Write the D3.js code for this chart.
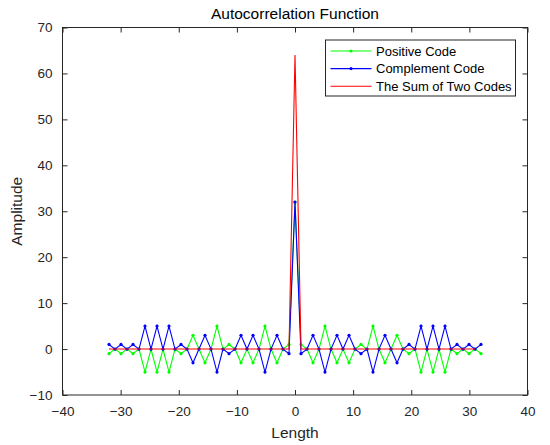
<!DOCTYPE html>
<html>
<head>
<meta charset="utf-8">
<script src="https://cdn.jsdelivr.net/npm/d3@7.9.0/dist/d3.min.js"></script>
<style>
  body { margin: 0; background: #fff; }
  text { font-family: Arial, "Liberation Sans", sans-serif; }
</style>
</head>
<body>
<svg id="chart"></svg>
<script>
// lag index (-31..31), drawn across Length -32..32
const lags = d3.range(-31, 32);

const complementCode = [
  1, 0, 1, 0, 1, 0, 5, 0, 5, 0, 5, 0, 1, 0, -3, 0,
  3, 0, -5, 0, -1, 0, 3, 0, 3, 0, -5, 0, 3, 0, -1,
  32,
  -1, 0, 3, 0, -5, 0, 3, 0, 3, 0, -1, 0, -5, 0, 3,
  0, -3, 0, 1, 0, 5, 0, 5, 0, 5, 0, 1, 0, 1, 0, 1
];
const positiveCode = [
  -1, 0, -1, 0, -1, 0, -5, 0, -5, 0, -5, 0, -1, 0, 3, 0,
  -3, 0, 5, 0, 1, 0, -3, 0, -3, 0, 5, 0, -3, 0, 1,
  32,
  1, 0, -3, 0, 5, 0, -3, 0, -3, 0, 1, 0, 5, 0, -3,
  0, 3, 0, -1, 0, -5, 0, -5, 0, -5, 0, -1, 0, -1, 0, -1
];
const sumCodes = [
  0, 0, 0, 0, 0, 0, 0, 0, 0, 0, 0, 0, 0, 0, 0, 0,
  0, 0, 0, 0, 0, 0, 0, 0, 0, 0, 0, 0, 0, 0, 0,
  64,
  0, 0, 0, 0, 0, 0, 0, 0, 0, 0, 0, 0, 0, 0, 0,
  0, 0, 0, 0, 0, 0, 0, 0, 0, 0, 0, 0, 0, 0, 0
];

const xTicks = [-40, -30, -20, -10, 0, 10, 20, 30, 40];
const yTicks = [-10, 0, 10, 20, 30, 40, 50, 60, 70];

const series = [
  { name: "Positive Code", values: positiveCode, color: "#00ff00", dots: true },
  { name: "Complement Code", values: complementCode, color: "#0000ff", dots: true },
  { name: "The Sum of Two Codes", values: sumCodes, color: "#ff0000", dots: false }
];

const W = 550, H = 445;
const margin = { top: 27.5, right: 22.5, bottom: 50, left: 62.5 };
const width = W - margin.left - margin.right,
      height = H - margin.top - margin.bottom;

const svg = d3.select("#chart")
  .attr("width", W)
  .attr("height", H);

const g = svg.append("g")
  .attr("transform", `translate(${margin.left},${margin.top})`);

const x = d3.scaleLinear().domain([-40, 40]).range([0, width]);
const y = d3.scaleLinear().domain([-10, 70]).range([height, 0]);
// lag index -> Length axis position
const xLag = d3.scaleLinear().domain([-31, 31]).range([x(-32), x(32)]);

const fmt = d => d < 0 ? "\u2212" + Math.abs(d) : String(d);

// Axes with inward ticks (MATLAB style)
const axisStyle = sel => {
  sel.select(".domain").remove();
  sel.selectAll(".tick line").attr("stroke", "#262626");
  sel.selectAll(".tick text").attr("fill", "#262626").attr("font-size", 13.5);
};

g.append("g")
  .attr("transform", `translate(0,${height})`)
  .call(d3.axisBottom(x).tickValues(xTicks).tickFormat(fmt).tickSizeInner(-5).tickPadding(11))
  .call(axisStyle);
g.append("g")
  .call(d3.axisTop(x).tickValues(xTicks).tickFormat("").tickSizeInner(-5))
  .call(axisStyle);
g.append("g")
  .call(d3.axisLeft(y).tickValues(yTicks).tickFormat(fmt).tickSizeInner(-5).tickPadding(10))
  .call(axisStyle);
g.append("g")
  .attr("transform", `translate(${width},0)`)
  .call(d3.axisRight(y).tickValues(yTicks).tickFormat("").tickSizeInner(-5))
  .call(axisStyle);

g.append("rect")
  .attr("width", width)
  .attr("height", height)
  .attr("fill", "none")
  .attr("stroke", "#262626")
  .attr("stroke-width", 1);

// Lines
const line = d3.line()
  .x((d, i) => xLag(lags[i]))
  .y(d => y(d));

series.forEach(s => {
  g.append("path")
    .datum(s.values)
    .attr("fill", "none")
    .attr("stroke", s.color)
    .attr("stroke-width", 1.1)
    .attr("d", line);
  if (s.dots) {
    g.append("g").selectAll("circle")
      .data(s.values)
      .join("circle")
      .attr("cx", (d, i) => xLag(lags[i]))
      .attr("cy", d => y(d))
      .attr("r", 1.6)
      .attr("fill", s.color);
  }
});

// Title and axis labels
svg.append("text")
  .attr("x", margin.left + width / 2)
  .attr("y", 18.5)
  .attr("text-anchor", "middle")
  .attr("font-size", 15.5)
  .attr("fill", "#000")
  .text("Autocorrelation Function");

svg.append("text")
  .attr("x", margin.left + width / 2)
  .attr("y", 438)
  .attr("text-anchor", "middle")
  .attr("font-size", 15.5)
  .attr("fill", "#262626")
  .text("Length");

svg.append("text")
  .attr("transform", `translate(22,${margin.top + height / 2}) rotate(-90)`)
  .attr("text-anchor", "middle")
  .attr("font-size", 15.5)
  .attr("fill", "#262626")
  .text("Amplitude");

// Legend
const legend = svg.append("g")
  .attr("transform", "translate(325.5,40)");

legend.append("rect")
  .attr("width", 190)
  .attr("height", 56)
  .attr("fill", "#fff")
  .attr("stroke", "#262626")
  .attr("stroke-width", 1);

const rows = legend.selectAll(".row")
  .data(series)
  .join("g")
  .attr("class", "row")
  .attr("transform", (d, i) => `translate(0,${11 + i * 17.6})`);

rows.append("line")
  .attr("x1", 5).attr("x2", 46)
  .attr("stroke", d => d.color)
  .attr("stroke-width", 1.1);

rows.filter(d => d.dots).append("circle")
  .attr("cx", 25.5)
  .attr("r", 1.6)
  .attr("fill", d => d.color);

rows.append("text")
  .attr("x", 50.5)
  .attr("dy", "0.35em")
  .attr("font-size", 13)
  .attr("fill", "#000")
  .text(d => d.name);
</script>
</body>
</html>
